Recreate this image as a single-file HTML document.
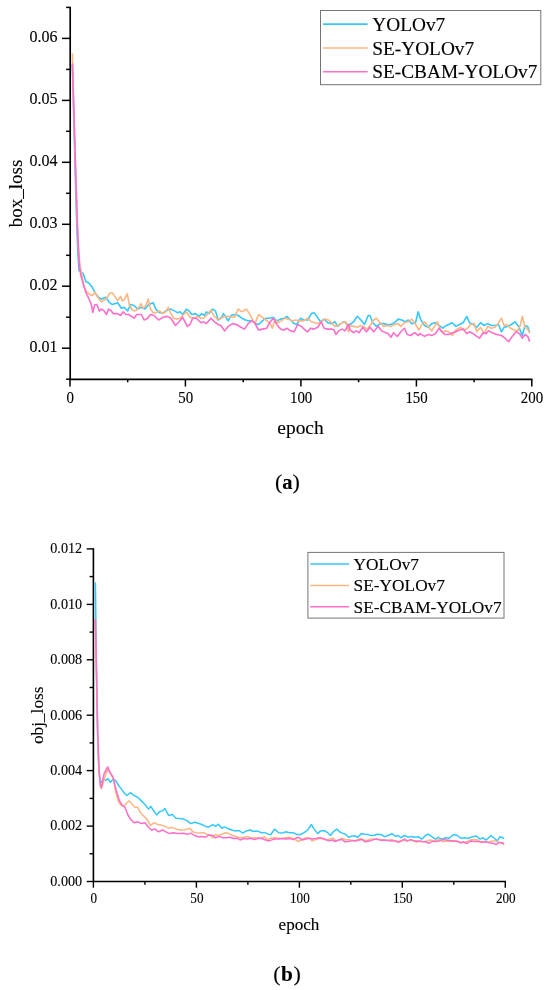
<!DOCTYPE html>
<html><head><meta charset="utf-8"><title>loss curves</title>
<style>html,body{margin:0;padding:0;background:#fff}svg{display:block}text{font-family:"Liberation Serif",serif;fill:#000;stroke:#000;stroke-width:0.12px}</style></head><body>
<svg width="550" height="990" viewBox="0 0 550 990">
<rect width="550" height="990" fill="#fff"/>
<polyline points="72.4,65.0 73.1,92.0 74.0,127.0 74.9,160.0 75.8,192.0 76.8,226.0 77.8,252.0 79.0,270.5 83.2,273.6 85.9,281.8 88.6,282.7 92.3,287.3 95.0,292.7 98.6,297.3 101.4,299.1 105.9,297.3 109.5,302.7 112.3,304.5 117.7,302.7 121.4,308.2 124.1,307.3 127.7,310.9 130.5,304.5 134.1,305.5 137.7,309.1 141.4,307.3 145.0,309.1 148.6,304.5 153.2,302.7 155.9,309.1 159.5,312.7 163.6,312.7 167.3,310.0 170.9,309.1 174.5,310.9 177.3,312.7 180.0,311.8 182.7,314.5 186.4,309.1 189.1,310.9 191.8,314.5 195.5,313.6 199.1,316.4 201.8,313.6 204.5,315.5 206.4,311.8 209.1,313.6 212.7,309.1 215.5,310.9 218.2,320.0 220.9,318.2 223.6,313.6 226.4,318.2 228.2,320.9 230.9,315.5 234.5,314.5 238.2,315.5 241.8,318.2 245.5,320.0 249.1,320.9 252.7,320.9 255.0,323.6 258.6,324.5 262.3,320.9 265.9,318.2 269.5,318.2 273.2,317.3 276.8,320.9 280.5,319.1 284.1,318.2 286.8,316.4 290.5,320.0 294.1,323.6 296.8,324.5 300.5,318.2 304.1,320.0 307.7,320.0 311.4,313.6 314.1,312.7 316.8,316.4 320.5,321.8 324.1,319.1 327.7,322.7 331.4,323.6 335.0,321.8 337.7,326.4 340.5,323.6 344.1,321.8 347.7,324.5 350.0,324.5 353.6,321.8 357.3,316.4 360.9,320.0 364.5,324.5 368.2,315.5 370.0,315.5 372.7,322.7 376.4,326.4 380.0,323.6 383.6,323.6 387.3,324.5 390.9,324.5 394.5,322.7 398.2,319.1 401.8,320.0 405.5,321.8 408.2,320.0 411.8,323.6 415.5,322.7 418.2,311.8 420.9,320.0 424.5,325.5 428.2,327.3 431.8,323.6 435.5,322.7 439.1,325.5 442.7,328.2 445.0,326.4 448.6,324.5 452.3,322.7 455.9,326.4 459.5,324.5 463.2,322.7 466.8,316.4 469.5,322.7 473.2,324.5 476.8,327.3 480.5,322.7 484.1,325.5 487.7,323.6 491.4,325.5 495.0,325.5 498.6,324.5 501.4,331.8 504.1,327.3 507.7,326.4 511.4,324.5 515.0,321.8 518.6,326.4 522.3,335.5 525.0,325.5 527.7,326.4 529.5,331.8" fill="none" stroke="#34c8fe" stroke-width="1.6" stroke-linejoin="round" stroke-linecap="round"/>
<polyline points="72.4,53.9 73.2,88.0 74.2,123.0 75.2,157.0 76.2,189.0 77.3,223.0 78.5,249.0 80.0,266.0 81.7,274.5 84.1,287.3 86.8,291.8 89.5,294.5 92.3,295.5 95.0,292.4 97.7,297.3 101.4,301.8 104.1,300.0 106.8,298.2 109.5,293.6 112.3,292.7 115.0,296.4 117.7,300.9 120.5,296.4 122.3,300.9 124.1,300.0 127.2,293.6 129.5,305.5 132.3,310.0 135.0,310.9 137.7,309.1 141.0,303.6 143.2,308.2 145.9,305.5 148.3,299.1 150.5,309.1 153.2,312.7 155.9,312.7 159.5,310.9 162.7,313.6 165.5,311.8 168.2,307.3 170.9,313.6 173.6,318.2 176.4,319.1 180.0,318.2 182.7,315.5 186.4,311.8 190.0,317.3 193.6,318.2 197.3,316.4 200.9,318.2 203.6,318.2 207.3,314.5 210.9,310.0 213.6,315.5 217.3,319.1 220.9,318.2 224.5,316.4 228.2,316.4 230.9,317.3 234.5,317.3 238.2,309.1 241.8,311.8 246.4,309.1 250.0,314.5 253.6,321.8 255.0,323.6 258.6,314.5 262.3,317.3 265.9,320.0 269.5,322.7 272.3,328.2 275.0,320.0 277.7,322.7 281.4,320.9 285.0,318.2 288.6,319.1 292.3,320.9 295.9,320.0 299.5,320.9 303.2,320.9 307.7,318.2 311.4,321.8 315.0,322.7 318.6,323.6 322.3,320.9 325.0,319.1 328.6,320.0 332.3,323.6 335.0,326.4 338.6,325.5 342.3,322.7 345.9,321.8 348.6,331.8 350.0,325.5 353.6,326.4 357.3,327.3 360.9,325.5 364.5,327.3 367.3,329.1 370.9,324.5 373.6,320.0 376.4,318.2 380.0,322.7 383.6,326.4 387.3,325.5 390.9,326.4 394.5,324.5 398.2,323.6 400.9,326.4 404.5,322.7 408.2,321.8 411.8,319.1 415.5,324.5 419.1,330.0 421.8,324.5 424.5,321.8 428.2,326.4 431.8,330.9 434.5,326.4 437.3,321.8 440.9,330.9 443.6,331.8 445.0,330.9 448.6,331.8 452.3,335.5 455.9,330.0 460.5,327.3 464.1,330.0 467.7,328.2 470.5,324.5 474.1,323.6 476.8,331.8 480.5,327.3 484.1,333.6 487.7,326.4 491.4,328.2 495.0,327.3 498.6,322.7 501.4,318.2 504.1,325.5 506.8,324.5 510.5,328.2 514.1,330.0 517.7,330.9 520.5,324.5 522.3,316.4 525.0,327.3 527.7,329.1 529.5,332.7" fill="none" stroke="#feb683" stroke-width="1.6" stroke-linejoin="round" stroke-linecap="round"/>
<polyline points="72.4,64.0 73.3,92.0 74.3,126.0 75.3,159.0 76.3,191.0 77.4,225.0 78.6,252.0 79.6,268.0 81.0,276.0 83.2,283.6 85.9,292.7 89.5,300.0 91.5,305.1 92.8,312.4 94.6,305.1 96.8,304.5 99.5,310.9 101.4,309.1 104.1,310.9 106.5,314.5 108.6,309.1 110.5,310.0 113.2,313.6 117.7,313.6 120.5,315.5 123.2,311.8 125.9,314.5 128.6,314.5 134.1,318.2 136.8,314.5 141.4,314.5 144.1,320.0 147.7,318.2 150.5,314.5 154.1,315.5 158.6,320.0 160.0,319.1 162.7,317.3 167.3,316.4 170.9,318.2 175.5,325.5 179.1,321.8 182.7,317.3 187.3,326.4 190.0,324.5 192.7,318.2 196.4,318.2 200.9,322.7 203.6,321.8 206.4,323.6 210.9,318.2 214.5,321.8 218.2,324.5 220.9,325.5 224.5,330.9 228.2,326.4 232.7,323.6 236.4,324.5 240.9,327.3 244.5,329.1 248.2,323.6 251.8,320.9 254.5,322.7 258.6,330.0 262.3,329.1 266.8,328.2 269.5,322.7 273.2,318.2 276.8,324.5 280.5,329.1 284.1,330.0 286.8,328.2 290.5,330.9 294.1,331.8 297.7,324.5 301.4,326.4 305.0,330.0 307.7,331.8 310.5,328.2 314.1,329.1 317.7,327.3 321.4,321.8 324.1,328.2 327.7,329.1 331.4,329.1 334.1,330.0 335.9,334.5 338.6,330.9 342.3,329.1 345.0,330.9 348.6,324.5 350.0,330.0 353.6,332.7 356.4,330.9 359.1,332.7 362.7,327.3 366.4,331.8 370.0,327.3 373.6,331.8 378.2,326.4 381.8,330.9 385.5,332.7 388.2,333.6 390.9,337.3 393.6,332.7 397.3,336.4 400.9,331.8 404.5,328.2 407.3,334.5 410.9,335.5 414.5,332.7 418.2,335.5 420.0,333.6 424.5,336.4 428.2,334.5 431.8,335.5 435.5,333.6 439.1,328.2 442.7,332.7 445.0,334.5 448.6,334.5 452.3,332.7 455.9,331.8 459.5,330.0 463.2,329.1 466.8,333.6 469.5,331.8 473.2,333.6 476.8,336.4 479.5,338.2 483.2,332.7 485.9,333.6 488.6,330.9 492.3,332.7 496.8,334.5 501.4,335.5 505.0,338.2 508.6,341.8 512.3,336.4 515.9,331.8 519.5,333.6 522.3,338.2 525.0,334.5 527.7,336.4 529.5,340.9" fill="none" stroke="#fe6eca" stroke-width="1.6" stroke-linejoin="round" stroke-linecap="round"/>
<g stroke="#000" fill="none">
<path d="M70.20 6.7 V379.3 H532.5" stroke-width="1.65"/>
<path d="M70.0 379.2 H66.1" stroke-width="1.5"/>
<path d="M70.0 348.2 H62.0" stroke-width="1.5"/>
<path d="M70.0 317.2 H66.1" stroke-width="1.5"/>
<path d="M70.0 286.2 H62.0" stroke-width="1.5"/>
<path d="M70.0 255.3 H66.1" stroke-width="1.5"/>
<path d="M70.0 224.3 H62.0" stroke-width="1.5"/>
<path d="M70.0 193.3 H66.1" stroke-width="1.5"/>
<path d="M70.0 162.3 H62.0" stroke-width="1.5"/>
<path d="M70.0 131.3 H66.1" stroke-width="1.5"/>
<path d="M70.0 100.4 H62.0" stroke-width="1.5"/>
<path d="M70.0 69.4 H66.1" stroke-width="1.5"/>
<path d="M70.0 38.4 H62.0" stroke-width="1.5"/>
<path d="M70.0 7.4 H66.1" stroke-width="1.5"/>
<path d="M70.0 379.3 V386.5" stroke-width="1.5"/>
<path d="M127.7 379.3 V382.3" stroke-width="1.5"/>
<path d="M185.4 379.3 V386.5" stroke-width="1.5"/>
<path d="M243.2 379.3 V382.3" stroke-width="1.5"/>
<path d="M300.9 379.3 V386.5" stroke-width="1.5"/>
<path d="M358.6 379.3 V382.3" stroke-width="1.5"/>
<path d="M416.4 379.3 V386.5" stroke-width="1.5"/>
<path d="M474.1 379.3 V382.3" stroke-width="1.5"/>
<path d="M531.8 379.3 V386.5" stroke-width="1.5"/>
</g>
<text transform="translate(57.60,352.20) scale(1.0200,1)" font-size="15.7" text-anchor="end">0.01</text>
<text transform="translate(57.60,290.24) scale(1.0200,1)" font-size="15.7" text-anchor="end">0.02</text>
<text transform="translate(57.60,228.28) scale(1.0200,1)" font-size="15.7" text-anchor="end">0.03</text>
<text transform="translate(57.60,166.32) scale(1.0200,1)" font-size="15.7" text-anchor="end">0.04</text>
<text transform="translate(57.60,104.36) scale(1.0200,1)" font-size="15.7" text-anchor="end">0.05</text>
<text transform="translate(57.60,42.40) scale(1.0200,1)" font-size="15.7" text-anchor="end">0.06</text>
<text transform="translate(70.20,403.30) scale(0.9500,1)" font-size="15.7" text-anchor="middle">0</text>
<text transform="translate(185.65,403.30) scale(0.9500,1)" font-size="15.7" text-anchor="middle">50</text>
<text transform="translate(301.10,403.30) scale(0.9500,1)" font-size="15.7" text-anchor="middle">100</text>
<text transform="translate(416.55,403.30) scale(0.9500,1)" font-size="15.7" text-anchor="middle">150</text>
<text transform="translate(532.00,403.30) scale(0.9500,1)" font-size="15.7" text-anchor="middle">200</text>
<text transform="translate(21.70,193.40) rotate(-90)" font-size="19.0" text-anchor="middle">box_loss</text>
<text transform="translate(300.50,434.20) scale(1.0220,1)" font-size="19" text-anchor="middle">epoch</text>
<text transform="translate(287.40,488.90)" font-size="22" text-anchor="middle">(<tspan font-weight="bold" font-size="20.5">a</tspan>)</text>
<rect x="320.5" y="10.5" width="220.3" height="74.2" fill="#fff" stroke="#757575" stroke-width="1"/>
<path d="M323 24.1 H367.6" stroke="#34c8fe" stroke-width="1.6"/>
<text transform="translate(372.30,30.65) scale(1.0550,1)" font-size="18.3" text-anchor="start">YOLOv7</text>
<path d="M323 48.0 H367.6" stroke="#feb683" stroke-width="1.6"/>
<text transform="translate(372.30,54.55) scale(1.0550,1)" font-size="18.3" text-anchor="start">SE-YOLOv7</text>
<path d="M323 71.8 H367.6" stroke="#fe6eca" stroke-width="1.6"/>
<text transform="translate(372.30,78.45) scale(1.0550,1)" font-size="18.3" text-anchor="start">SE-CBAM-YOLOv7</text>
<polyline points="95.4,583.1 95.9,625.0 96.4,668.0 96.9,703.0 97.5,733.0 98.1,752.0 98.7,766.0 99.5,776.0 100.3,781.5 101.0,782.7 103.2,779.6 105.9,780.4 107.7,778.5 110.5,782.2 113.2,779.1 115.9,780.9 118.6,785.5 121.4,789.1 124.1,792.7 126.8,795.5 130.5,792.7 134.1,795.5 137.7,797.3 141.4,800.9 145.0,804.5 148.6,809.1 150.8,806.4 153.2,810.0 156.8,814.9 159.5,811.8 162.3,810.9 165.0,808.7 168.6,815.5 172.3,814.5 175.9,818.2 179.5,818.5 183.6,819.1 187.3,820.9 190.9,823.6 194.5,822.2 198.2,823.3 201.8,824.5 205.5,826.4 209.1,826.9 212.7,824.5 215.5,826.4 218.5,824.2 221.8,828.2 224.5,826.9 228.2,828.7 231.8,830.0 235.5,830.9 239.1,830.5 242.7,833.1 246.4,830.9 250.0,830.0 253.6,831.5 257.3,830.9 260.9,832.7 264.5,832.4 268.2,834.2 270.9,834.5 274.5,829.1 278.6,832.7 282.3,833.1 285.9,831.8 289.5,832.7 293.2,832.7 296.8,834.5 300.5,834.5 304.1,832.7 307.7,830.0 311.4,824.5 314.1,829.1 317.7,833.6 320.5,830.9 324.1,830.5 327.7,832.7 330.5,835.5 333.2,831.8 336.8,829.1 339.5,831.8 342.3,833.1 345.9,834.5 348.6,837.3 352.3,836.0 355.0,836.0 357.7,837.3 361.4,833.6 365.0,834.2 368.6,834.5 370.0,835.5 373.6,835.5 377.3,834.2 380.9,834.5 384.5,836.7 388.2,835.5 391.8,833.6 395.5,836.4 398.2,835.5 400.9,837.8 404.5,835.5 408.2,837.3 410.9,836.4 414.5,837.3 418.2,836.7 421.8,839.1 425.5,835.5 428.2,834.2 431.8,836.7 435.5,839.1 438.2,837.3 441.8,839.1 445.5,837.8 449.1,838.2 453.6,834.5 457.3,835.5 460.9,838.2 464.5,837.8 467.3,838.5 472.7,836.7 476.4,836.0 480.0,839.1 482.7,837.8 486.4,840.0 490.9,835.5 494.5,838.5 497.3,840.9 500.0,836.7 503.6,838.2" fill="none" stroke="#34c8fe" stroke-width="1.5" stroke-linejoin="round" stroke-linecap="round"/>
<polyline points="95.4,619.7 95.9,648.0 96.5,675.0 97.1,705.0 97.7,733.0 98.3,752.0 98.9,768.0 99.7,780.0 100.5,787.0 101.4,788.7 104.1,780.0 107.2,770.0 110.5,772.7 113.2,778.2 115.9,792.7 118.6,801.8 121.4,805.5 124.1,806.4 126.8,802.7 129.5,800.9 132.3,804.5 135.0,807.3 137.7,807.3 140.5,812.7 143.2,815.5 146.8,819.1 150.5,825.5 154.1,822.7 157.7,824.5 161.4,825.1 165.0,826.4 168.6,828.2 172.3,827.3 175.9,829.1 179.5,830.0 183.6,830.0 187.3,829.1 190.0,828.2 192.7,831.8 196.4,832.7 200.0,833.1 203.6,832.7 207.3,834.5 210.0,835.5 212.7,837.8 215.5,834.5 218.2,835.5 221.8,834.2 225.5,832.7 229.1,833.6 232.7,835.5 236.4,836.7 240.0,837.8 243.6,837.3 247.3,836.4 250.9,838.2 254.5,837.8 258.2,838.2 261.8,837.8 264.5,836.7 267.3,839.6 270.9,838.2 274.5,837.8 278.6,838.2 282.3,838.5 285.9,837.8 289.5,837.3 293.2,838.5 295.9,840.0 298.6,841.5 302.3,839.1 305.9,837.8 309.5,838.2 312.3,840.9 315.9,839.6 319.5,838.2 323.2,839.1 326.8,840.0 329.5,839.1 333.2,838.2 335.9,840.9 339.5,839.6 342.3,838.2 345.9,840.0 349.5,839.6 353.2,840.9 356.8,840.0 360.5,838.5 364.1,840.0 367.7,840.4 370.0,839.1 373.6,839.1 377.3,839.6 380.9,839.6 384.5,840.0 388.2,840.4 391.8,839.6 395.5,840.9 399.1,841.5 402.7,840.0 406.4,840.9 410.0,840.0 413.6,840.9 416.4,842.2 420.0,840.9 423.6,841.8 427.3,840.9 430.0,840.0 433.6,840.9 437.3,840.0 440.0,839.6 442.7,841.8 446.4,840.9 450.0,841.5 453.6,840.9 457.3,840.9 460.9,842.7 464.5,842.2 468.2,840.9 470.0,840.0 473.6,839.6 477.3,840.0 480.9,841.8 484.5,841.5 488.2,842.2 491.8,840.9 495.5,840.9 498.2,842.7 500.9,842.7 503.6,844.5" fill="none" stroke="#feb683" stroke-width="1.5" stroke-linejoin="round" stroke-linecap="round"/>
<polyline points="95.4,619.7 96.0,648.0 96.6,675.0 97.2,705.0 97.8,733.0 98.4,752.0 99.0,768.0 99.8,779.0 100.6,786.0 101.4,787.3 104.1,773.6 107.7,766.9 110.5,773.6 113.2,777.3 115.9,789.1 119.5,800.9 122.3,805.5 125.0,807.3 127.7,814.5 130.5,819.1 134.1,822.7 137.7,821.8 141.4,823.6 145.0,822.7 148.6,827.3 151.4,830.0 155.0,829.1 158.6,831.8 162.3,830.0 165.9,831.8 169.5,833.6 173.2,832.7 177.7,833.6 180.0,833.6 183.6,833.3 187.3,834.2 190.9,833.1 194.5,835.5 198.2,836.7 201.8,836.4 205.5,837.3 209.1,834.9 212.7,835.5 215.5,837.8 219.1,836.4 222.7,837.8 226.4,837.8 230.0,837.3 233.6,838.5 237.3,838.2 240.0,840.0 243.6,838.5 247.3,839.1 250.9,838.2 254.5,839.6 258.2,838.2 261.8,838.5 265.5,840.0 269.1,840.9 272.7,839.6 275.0,839.1 278.6,839.1 282.3,838.5 285.9,839.1 289.5,838.5 293.2,839.6 295.9,838.2 298.6,837.3 302.3,840.0 305.9,839.1 309.5,838.2 312.3,839.1 315.9,838.5 319.5,837.8 323.2,838.5 326.8,840.0 329.5,840.9 332.3,840.0 335.0,841.5 338.6,840.0 342.3,839.6 345.0,841.8 348.6,841.5 352.3,840.4 355.9,840.9 359.5,840.0 362.3,839.6 365.0,841.8 368.6,840.9 370.0,840.9 373.6,839.6 377.3,839.1 380.9,840.4 384.5,840.0 388.2,840.4 391.8,840.9 395.5,840.9 398.2,842.2 401.8,840.9 404.5,839.1 407.3,840.9 410.9,839.6 414.5,840.9 418.2,840.9 421.8,841.5 425.5,841.8 429.1,843.3 431.8,841.5 435.5,841.5 439.1,840.9 442.7,839.6 446.4,840.0 450.0,840.4 453.6,840.9 457.3,841.5 460.9,842.7 463.6,841.8 466.4,843.6 470.9,840.9 474.5,841.5 478.2,841.5 481.8,842.2 485.5,841.8 489.1,842.7 492.7,843.3 496.4,844.5 499.1,842.2 501.8,842.7 503.6,843.3" fill="none" stroke="#fe6eca" stroke-width="1.5" stroke-linejoin="round" stroke-linecap="round"/>
<g stroke="#000" fill="none">
<path d="M93.4 548.2 V881.5 H506.0" stroke-width="1.6"/>
<path d="M93.4 881.5 H86.7" stroke-width="1.4"/>
<path d="M93.4 853.8 H89.6" stroke-width="1.4"/>
<path d="M93.4 826.1 H86.7" stroke-width="1.4"/>
<path d="M93.4 798.4 H89.6" stroke-width="1.4"/>
<path d="M93.4 770.6 H86.7" stroke-width="1.4"/>
<path d="M93.4 742.9 H89.6" stroke-width="1.4"/>
<path d="M93.4 715.2 H86.7" stroke-width="1.4"/>
<path d="M93.4 687.5 H89.6" stroke-width="1.4"/>
<path d="M93.4 659.8 H86.7" stroke-width="1.4"/>
<path d="M93.4 632.1 H89.6" stroke-width="1.4"/>
<path d="M93.4 604.4 H86.7" stroke-width="1.4"/>
<path d="M93.4 576.6 H89.6" stroke-width="1.4"/>
<path d="M93.4 548.9 H86.7" stroke-width="1.4"/>
<path d="M93.4 881.5 V887.7" stroke-width="1.4"/>
<path d="M144.9 881.5 V884.7" stroke-width="1.4"/>
<path d="M196.4 881.5 V887.7" stroke-width="1.4"/>
<path d="M247.9 881.5 V884.7" stroke-width="1.4"/>
<path d="M299.4 881.5 V887.7" stroke-width="1.4"/>
<path d="M350.8 881.5 V884.7" stroke-width="1.4"/>
<path d="M402.3 881.5 V887.7" stroke-width="1.4"/>
<path d="M453.8 881.5 V884.7" stroke-width="1.4"/>
<path d="M505.3 881.5 V887.7" stroke-width="1.4"/>
</g>
<text transform="translate(82.20,885.80)" font-size="14.2" text-anchor="end">0.000</text>
<text transform="translate(82.20,830.37)" font-size="14.2" text-anchor="end">0.002</text>
<text transform="translate(82.20,774.94)" font-size="14.2" text-anchor="end">0.004</text>
<text transform="translate(82.20,719.51)" font-size="14.2" text-anchor="end">0.006</text>
<text transform="translate(82.20,664.08)" font-size="14.2" text-anchor="end">0.008</text>
<text transform="translate(82.20,608.65)" font-size="14.2" text-anchor="end">0.010</text>
<text transform="translate(82.20,553.22)" font-size="14.2" text-anchor="end">0.012</text>
<text transform="translate(93.90,903.20) scale(0.9400,1)" font-size="14" text-anchor="middle">0</text>
<text transform="translate(196.88,903.20) scale(0.9400,1)" font-size="14" text-anchor="middle">50</text>
<text transform="translate(299.85,903.20) scale(0.9400,1)" font-size="14" text-anchor="middle">100</text>
<text transform="translate(402.83,903.20) scale(0.9400,1)" font-size="14" text-anchor="middle">150</text>
<text transform="translate(505.80,903.20) scale(0.9400,1)" font-size="14" text-anchor="middle">200</text>
<text transform="translate(43.10,715.30) rotate(-90)" font-size="17.3" text-anchor="middle">obj_loss</text>
<text transform="translate(299.00,929.80) scale(1.0550,1)" font-size="16.2" text-anchor="middle">epoch</text>
<text transform="translate(287.00,981.20)" font-size="22" text-anchor="middle">(<tspan font-weight="bold" font-size="21.3" dx="0.5">b</tspan><tspan dx="0.5">)</tspan></text>
<rect x="307.9" y="552.4" width="196.1" height="65.7" fill="#fff" stroke="#757575" stroke-width="1"/>
<path d="M310.3 564.0 H349.2" stroke="#34c8fe" stroke-width="1.5"/>
<text transform="translate(353.60,569.70) scale(1.0370,1)" font-size="16.7" text-anchor="start">YOLOv7</text>
<path d="M310.3 585.4 H349.2" stroke="#feb683" stroke-width="1.5"/>
<text transform="translate(353.60,591.12) scale(1.0370,1)" font-size="16.7" text-anchor="start">SE-YOLOv7</text>
<path d="M310.3 606.8 H349.2" stroke="#fe6eca" stroke-width="1.5"/>
<text transform="translate(353.60,612.54) scale(1.0370,1)" font-size="16.7" text-anchor="start">SE-CBAM-YOLOv7</text>
</svg></body></html>
